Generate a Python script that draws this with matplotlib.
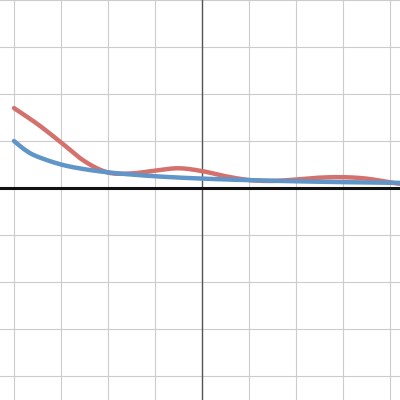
import numpy as np
import matplotlib
matplotlib.use("Agg")
import matplotlib.pyplot as plt

red_x = [-4, -3.5, -3, -2.5, -2, -1.5, -1, -0.5, 0, 0.5, 1, 1.5, 2, 2.5, 3, 3.5, 4, 4.2]
red_y = [1.7, 1.36, 0.97, 0.57, 0.33, 0.31, 0.37, 0.42, 0.36, 0.25, 0.17, 0.15, 0.18, 0.22, 0.23, 0.2, 0.12, 0.09]
blue_x = [-4, -3.75, -3.5, -3, -2.5, -2, -1.5, -1, -0.5, 0, 0.5, 1, 1.5, 2, 2.5, 3, 3.5, 4, 4.2]
blue_y = [1.0, 0.8, 0.667, 0.5, 0.4, 0.333, 0.286, 0.25, 0.222, 0.2, 0.182, 0.167, 0.154, 0.143, 0.133, 0.125, 0.118, 0.111, 0.109]

def smooth(xs, ys, n=20):
    xs = np.asarray(xs, float); ys = np.asarray(ys, float)
    P = np.column_stack([xs, ys])
    P = np.vstack([2*P[0]-P[1], P, 2*P[-1]-P[-2]])
    out = []
    for i in range(1, len(P)-2):
        p0, p1, p2, p3 = P[i-1], P[i], P[i+1], P[i+2]
        for t in np.linspace(0, 1, n, endpoint=False):
            out.append(0.5*((2*p1) + (-p0+p2)*t + (2*p0-5*p1+4*p2-p3)*t**2 + (-p0+3*p1-3*p2+p3)*t**3))
    out.append(P[-2])
    out = np.array(out)
    return out[:, 0], out[:, 1]

fig = plt.figure(figsize=(4, 4), dpi=100)
ax = fig.add_axes([0, 0, 1, 1])
ax.set_xlim(-202/47, 198/47)
ax.set_ylim(-212/47, 188/47)
for v in range(-5, 6):
    ax.axvline(v, color='#cccccc', lw=0.8, zorder=0)
    ax.axhline(v, color='#cccccc', lw=0.8, zorder=0)
ax.axvline(0, color='#555555', lw=1.0, zorder=1)
ax.axhline(0, color='#111111', lw=2.2, zorder=1)
bx, by = smooth(blue_x, blue_y)
rx, ry = smooth(red_x, red_y)
ax.plot(bx, by, color='#5f95c9', lw=3.2, solid_capstyle='round', zorder=3)
ax.plot(rx, ry, color='#d4716d', lw=3.2, solid_capstyle='round', zorder=2)
ax.set_xticks([]); ax.set_yticks([])
for s in ax.spines.values():
    s.set_visible(False)
fig.savefig('out.png', dpi=100)
